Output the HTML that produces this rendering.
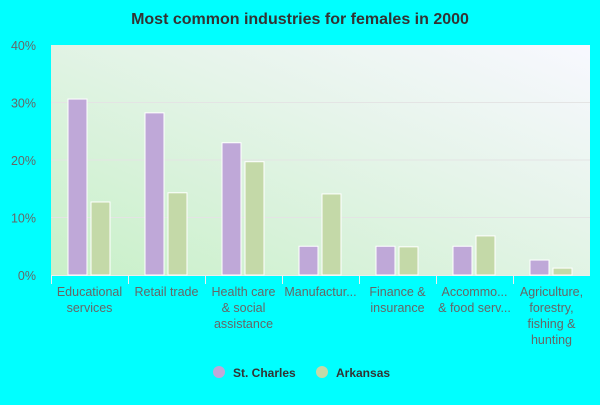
<!DOCTYPE html>
<html><head><meta charset="utf-8"><style>
body{margin:0;width:600px;height:400px;background:#00ffff;overflow:hidden;font-family:"Liberation Sans",sans-serif}
</style></head><body>
<svg width="600" height="400">
<defs>
<linearGradient id="bg" x1="0" y1="1" x2="1" y2="0">
<stop offset="0" stop-color="#c8f0c8"/><stop offset="0.6" stop-color="#e6f4ea"/><stop offset="1" stop-color="#f8f8ff"/>
</linearGradient>
</defs>
<text x="300" y="24" text-anchor="middle" font-size="16" font-weight="bold" fill="#333">Most common industries for females in 2000</text>
<rect x="51" y="45" width="539" height="230" fill="url(#bg)"/>
<g id="grid"></g><g id="bars"></g><g id="labels"></g>
<g>
<circle cx="219" cy="372" r="6" fill="#bfa8d8"/>
<text x="233" y="377" font-size="12" font-weight="bold" fill="#333">St. Charles</text>
<circle cx="322" cy="372" r="6" fill="#c4d9a8"/>
<text x="336" y="377" font-size="12" font-weight="bold" fill="#333">Arkansas</text>
</g>
</svg>
<script>
const categories=[["Educational","services"],["Retail trade"],["Health care","& social","assistance"],["Manufactur..."],["Finance &","insurance"],["Accommo...","& food serv..."],["Agriculture,","forestry,","fishing &","hunting"]];
const stCharles=[30.6,28.2,23.0,5.0,5.0,5.0,2.6];
const arkansas=[12.7,14.3,19.7,14.1,4.9,6.8,1.2];
const ticks=[0,10,20,30,40];
const NS="http://www.w3.org/2000/svg";
const x0=51,x1=590,yb=275,yt=45,maxV=40;
const gw=(x1-x0)/categories.length;
function y(v){return yb-(v/maxV)*(yb-yt);}
function mk(t,a,p){const e=document.createElementNS(NS,t);for(const k in a)e.setAttribute(k,a[k]);p.appendChild(e);return e;}
const G=document.getElementById('grid'),B=document.getElementById('bars'),L=document.getElementById('labels');
ticks.forEach(t=>{
 if(t>0&&t<40){const l=mk('line',{x1:x0,x2:x1,y1:y(t),y2:y(t),stroke:'#e4e4e4','stroke-width':1},G);
 
 }
 const tx=mk('text',{x:36,y:y(t)+5,'text-anchor':'end','font-size':12.5,fill:'#666'},L);tx.textContent=t+'%';
 
 
});
mk('line',{x1:x0,x2:x1,y1:yb+0.5,y2:yb+0.5,stroke:'#eee'},G);
categories.forEach((c,i)=>{
 const gx=x0+i*gw;
 const tk=mk('line',{x1:gx+0.5,x2:gx+0.5,y1:yb,y2:yb+9,stroke:'#eee'},G);
 
 
 const b1=mk('rect',{x:gx+17,y:y(stCharles[i]),width:19,height:yb-y(stCharles[i]),fill:'#bfa8d8',stroke:'#fff','stroke-width':1},B);
 
 
 const b2=mk('rect',{x:gx+40,y:y(arkansas[i]),width:19,height:yb-y(arkansas[i]),fill:'#c4d9a8',stroke:'#fff','stroke-width':1},B);
 
 
 c.forEach((ln,j)=>{const t=mk('text',{x:gx+gw/2,y:296+j*16,'text-anchor':'middle','font-size':12.5,fill:'#666'},L);t.textContent=ln;
 
 });
});
</script>
</body></html>
